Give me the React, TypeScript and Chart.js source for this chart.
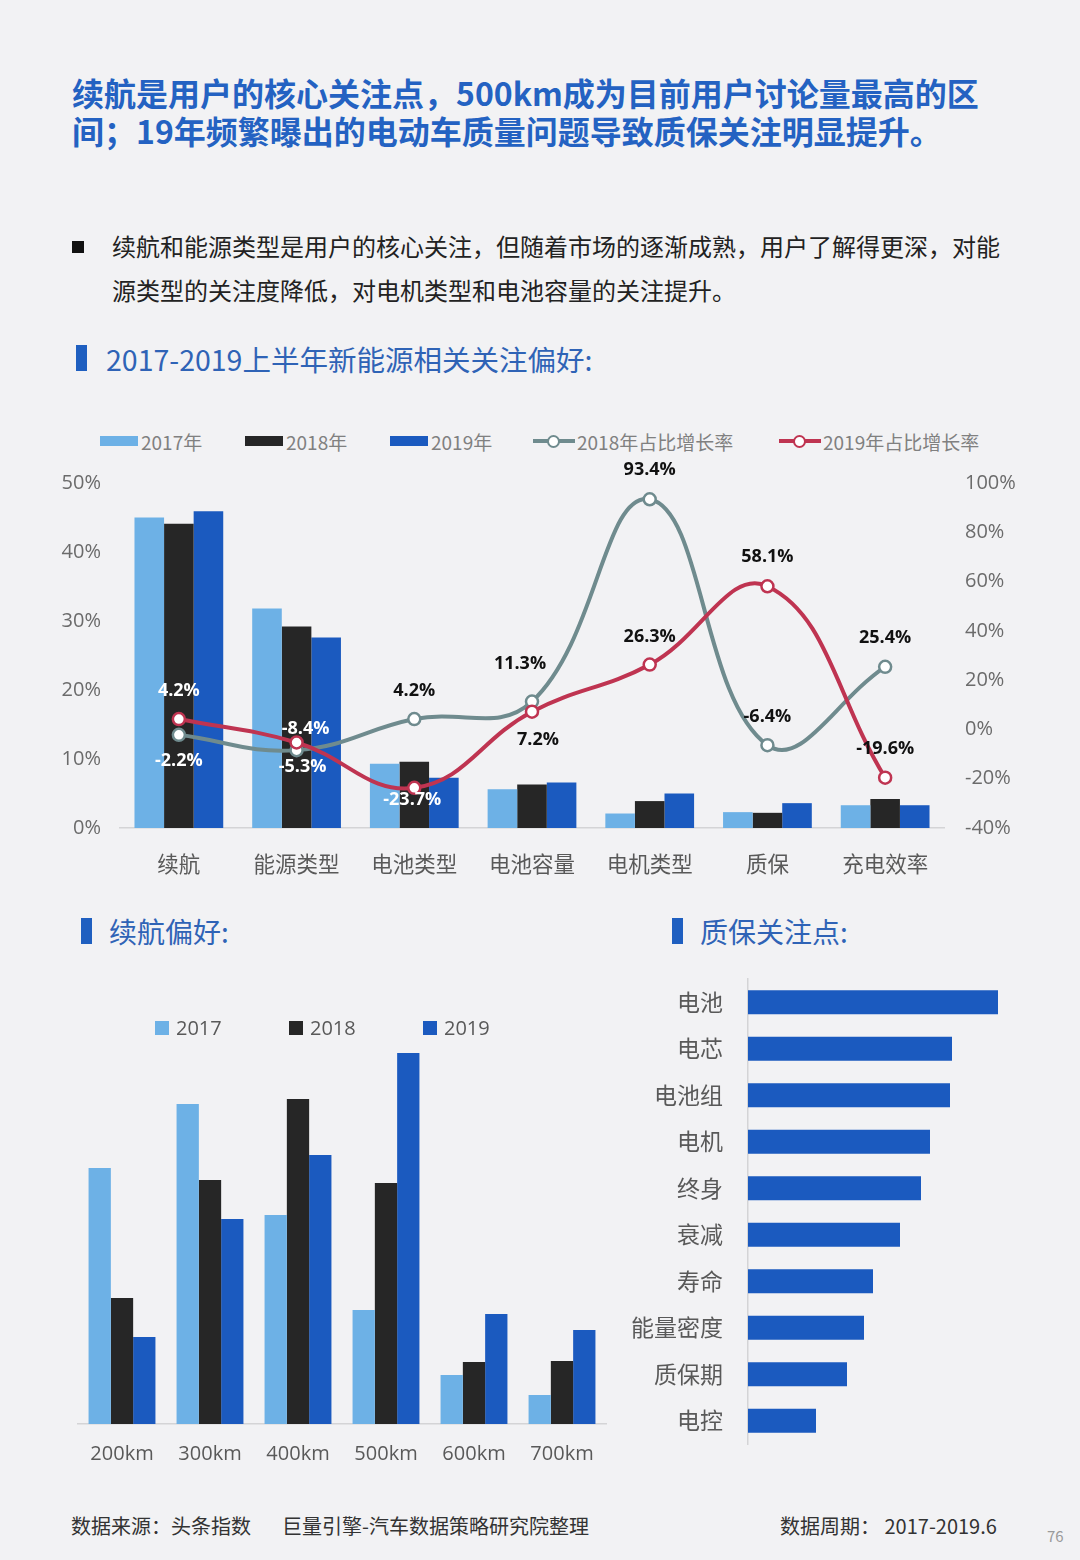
import React, { useEffect, useRef } from "react";
import { Chart, registerables } from "chart.js";

Chart.register(...registerables);

const NUM_FONT = "'Open Sans', 'Noto Sans CJK SC', sans-serif";
const CJK_FONT = "'Noto Sans CJK SC', 'Open Sans', sans-serif";

// ---------- data ----------
const focusCategories = ["续航", "能源类型", "电池类型", "电池容量", "电机类型", "质保", "充电效率"];
const share2017 = [45.0, 31.8, 9.3, 5.6, 2.1, 2.3, 3.3];
const share2018 = [44.1, 29.2, 9.6, 6.3, 3.9, 2.2, 4.2];
const share2019 = [45.9, 27.6, 7.3, 6.6, 5.0, 3.6, 3.3];
const growth2018 = [-2.2, -8.4, 4.2, 11.3, 93.4, -6.4, 25.4];
const growth2019 = [4.2, -5.3, -23.7, 7.2, 26.3, 58.1, -19.6];
const shareAxisTicks = [0, 10, 20, 30, 40, 50];
const growthAxisTicks = [-40, -20, 0, 20, 40, 60, 80, 100];

const rangeCategories = ["200km", "300km", "400km", "500km", "600km", "700km"];
const range2017 = [25.6, 32.0, 20.9, 11.4, 4.9, 2.9];
const range2018 = [12.6, 24.4, 32.5, 24.1, 6.2, 6.3];
const range2019 = [8.7, 20.5, 26.9, 37.1, 11.0, 9.4];

const warrantyCategories = ["电池", "电芯", "电池组", "电机", "终身", "衰减", "寿命", "能量密度", "质保期", "电控"];
const warrantyValues = [25.0, 20.4, 20.2, 18.2, 17.3, 15.2, 12.5, 11.6, 9.9, 6.8];

// ---------- styles ----------
const C17 = "#6db1e6";
const C18 = "#262626";
const C19 = "#1b5abf";
const CGRAY = "#6f8b8e";
const CRED = "#bf3451";
const BG = "#f2f2f4";

const growthLabelStyle: Record<string, { offsets: number[][]; colors: string[] }> = {
  g2018: {
    offsets: [[0, 26], [9, -21], [0, -28], [-12, -38], [0, -29], [0, -28], [0, -29]],
    colors: ["#ffffff", "#ffffff", "#111111", "#111111", "#111111", "#111111", "#111111"],
  },
  g2019: {
    offsets: [[0, -28], [6, 24], [-2, 12], [6, 28], [0, -28], [0, -29], [0, -29]],
    colors: ["#ffffff", "#ffffff", "#ffffff", "#111111", "#111111", "#111111", "#111111"],
  },
};

const growthLabelPlugin = {
  id: "growthLabels",
  afterDatasetsDraw(chart: any) {
    const ctx = chart.ctx;
    ctx.save();
    ctx.font = `bold 18px ${NUM_FONT}`;
    ctx.textAlign = "center";
    ctx.textBaseline = "middle";
    chart.data.datasets.forEach((ds: any, di: number) => {
      const st = growthLabelStyle[ds.styleKey];
      if (!st) return;
      const meta = chart.getDatasetMeta(di);
      meta.data.forEach((pt: any, i: number) => {
        const v = ds.data[i] as number;
        ctx.fillStyle = st.colors[i];
        ctx.fillText(`${v.toFixed(1)}%`, pt.x + st.offsets[i][0], pt.y + st.offsets[i][1]);
      });
    });
    ctx.restore();
  },
};

function MainChart() {
  const ref = useRef<HTMLCanvasElement>(null);
  useEffect(() => {
    const lineCommon = {
      type: "line" as const,
      yAxisID: "y1",
      borderWidth: 4,
      tension: 0.42,
      pointRadius: 6,
      pointBackgroundColor: "#ffffff",
      pointBorderWidth: 2.5,
    };
    const barCommon = {
      type: "bar" as const,
      yAxisID: "y",
      categoryPercentage: 0.754,
      barPercentage: 1,
      order: 2,
    };
    const chart = new Chart(ref.current!, {
      type: "bar",
      data: {
        labels: focusCategories,
        datasets: [
          { ...lineCommon, label: "2019年占比增长率", styleKey: "g2019", data: growth2019, borderColor: CRED, pointBorderColor: CRED, order: 0 } as any,
          { ...lineCommon, label: "2018年占比增长率", styleKey: "g2018", data: growth2018, borderColor: CGRAY, pointBorderColor: CGRAY, order: 1 } as any,
          { ...barCommon, label: "2017年", data: share2017, backgroundColor: C17 },
          { ...barCommon, label: "2018年", data: share2018, backgroundColor: C18 },
          { ...barCommon, label: "2019年", data: share2019, backgroundColor: C19 },
        ],
      },
      options: {
        animation: false,
        responsive: false,
        layout: { padding: { top: 31, left: 0, right: 0, bottom: 0 } },
        plugins: { legend: { display: false }, tooltip: { enabled: false } },
        scales: {
          x: {
            grid: { display: false },
            border: { display: true, color: "#d4d4d6", width: 1.5 },
            ticks: { font: { size: 21.5, family: CJK_FONT }, color: "#595959", padding: 15, maxRotation: 0, autoSkip: false },
            afterFit: (s: any) => { s.height = 72; },
          },
          y: {
            position: "left",
            min: 0,
            max: 50,
            afterBuildTicks: (s: any) => { s.ticks = shareAxisTicks.map((v) => ({ value: v })); },
            ticks: { callback: (v: any) => `${v}%`, font: { size: 20, family: NUM_FONT }, color: "#6b6b6b", padding: 11 },
            grid: { display: false },
            border: { display: false },
            afterFit: (s: any) => { s.width = 80; },
          },
          y1: {
            position: "right",
            min: -40,
            max: 100,
            afterBuildTicks: (s: any) => { s.ticks = growthAxisTicks.map((v) => ({ value: v })); },
            ticks: { callback: (v: any) => `${v}%`, font: { size: 20, family: NUM_FONT }, color: "#6b6b6b", padding: 13 },
            grid: { display: false },
            border: { display: false },
            afterFit: (s: any) => { s.width = 116; },
          },
        },
      } as any,
      plugins: [growthLabelPlugin],
    });
    return () => chart.destroy();
  }, []);
  return <canvas ref={ref} width={1020} height={448} style={{ position: "absolute", left: 40, top: 452, width: 1020, height: 448 }} />;
}

function RangeChart() {
  const ref = useRef<HTMLCanvasElement>(null);
  useEffect(() => {
    const common = { categoryPercentage: 0.76, barPercentage: 1 };
    const chart = new Chart(ref.current!, {
      type: "bar",
      data: {
        labels: rangeCategories,
        datasets: [
          { ...common, label: "2017", data: range2017, backgroundColor: C17 },
          { ...common, label: "2018", data: range2018, backgroundColor: C18 },
          { ...common, label: "2019", data: range2019, backgroundColor: C19 },
        ],
      },
      options: {
        animation: false,
        responsive: false,
        layout: { padding: { top: 24, left: 18, right: 14, bottom: 0 } },
        plugins: { legend: { display: false }, tooltip: { enabled: false } },
        scales: {
          x: {
            grid: { display: false },
            border: { display: true, color: "#d4d4d6", width: 1.5 },
            ticks: { font: { size: 20, family: NUM_FONT }, color: "#595959", padding: 10, maxRotation: 0, autoSkip: false },
            afterFit: (s: any) => { s.height = 66; },
          },
          y: { display: false, min: 0, max: 40 },
        },
      } as any,
    });
    return () => chart.destroy();
  }, []);
  return <canvas ref={ref} width={560} height={490} style={{ position: "absolute", left: 60, top: 1000, width: 560, height: 490 }} />;
}

function WarrantyChart() {
  const ref = useRef<HTMLCanvasElement>(null);
  useEffect(() => {
    const chart = new Chart(ref.current!, {
      type: "bar",
      data: {
        labels: warrantyCategories,
        datasets: [
          { label: "质保关注点", data: warrantyValues, backgroundColor: C19, categoryPercentage: 1, barPercentage: 0.516 },
        ],
      },
      options: {
        indexAxis: "y",
        animation: false,
        responsive: false,
        layout: { padding: { top: 39, left: 0, right: 42, bottom: 40 } },
        plugins: { legend: { display: false }, tooltip: { enabled: false } },
        scales: {
          x: { display: false, min: 0, max: 26 },
          y: {
            grid: { display: false },
            border: { display: true, color: "#d4d4d6", width: 1.5 },
            ticks: { font: { size: 23, family: CJK_FONT }, color: "#595959", padding: 17, autoSkip: false },
            afterFit: (s: any) => { s.width = 128; },
          },
        },
      } as any,
    });
    return () => chart.destroy();
  }, []);
  return <canvas ref={ref} width={430} height={544} style={{ position: "absolute", left: 620, top: 940, width: 430, height: 544 }} />;
}

function Text(props: { x: number; cy: number; size: number; color: string; weight?: number; children: any; family?: string }) {
  const lh = Math.round(props.size * 1.5);
  return (
    <div
      style={{
        position: "absolute",
        left: props.x,
        top: props.cy - lh / 2,
        height: lh,
        lineHeight: `${lh}px`,
        fontSize: props.size,
        color: props.color,
        fontWeight: props.weight ?? 400,
        fontFamily: props.family ?? CJK_FONT,
        whiteSpace: "nowrap",
      }}
    >
      {props.children}
    </div>
  );
}

function SectionHeader(props: { barX: number; textX: number; cy: number; size: number; children: any }) {
  return (
    <>
      <div style={{ position: "absolute", left: props.barX, top: props.cy - 13, width: 11, height: 26, background: "#1f5fc0" }} />
      <Text x={props.textX} cy={props.cy} size={props.size} color="#2f63b6">{props.children}</Text>
    </>
  );
}

const mainLegend = [
  { label: "2017年", kind: "bar", color: C17, x: 100 },
  { label: "2018年", kind: "bar", color: C18, x: 245 },
  { label: "2019年", kind: "bar", color: C19, x: 390 },
  { label: "2018年占比增长率", kind: "line", color: CGRAY, x: 533 },
  { label: "2019年占比增长率", kind: "line", color: CRED, x: 779 },
];

const rangeLegend = [
  { label: "2017", color: C17, x: 155 },
  { label: "2018", color: C18, x: 289 },
  { label: "2019", color: C19, x: 423 },
];

export default function App() {
  return (
    <div style={{ position: "absolute", left: 0, top: 0, width: 1080, height: 1560, background: BG, overflow: "hidden", fontFamily: CJK_FONT }}>
      {/* Title */}
      <Text x={72} cy={92} size={32} color="#2462c2" weight={700}>续航是用户的核心关注点，500km成为目前用户讨论量最高的区</Text>
      <Text x={72} cy={130} size={32} color="#2462c2" weight={700}>间；19年频繁曝出的电动车质量问题导致质保关注明显提升。</Text>

      {/* Bullet */}
      <div style={{ position: "absolute", left: 72, top: 241, width: 12, height: 12, background: "#111" }} />
      <Text x={112} cy={246} size={24} color="#222">续航和能源类型是用户的核心关注，但随着市场的逐渐成熟，用户了解得更深，对能</Text>
      <Text x={112} cy={290} size={24} color="#222">源类型的关注度降低，对电机类型和电池容量的关注提升。</Text>

      <SectionHeader barX={76} textX={106} cy={358} size={28.5}>2017-2019上半年新能源相关关注偏好:</SectionHeader>

      {/* Main legend */}
      {mainLegend.map((it) => (
        <div key={it.label}>
          {it.kind === "bar" ? (
            <div style={{ position: "absolute", left: it.x, top: 436, width: 38, height: 10, background: it.color }} />
          ) : (
            <>
              <div style={{ position: "absolute", left: it.x, top: 439, width: 42, height: 4, background: it.color }} />
              <div style={{ position: "absolute", left: it.x + 14, top: 434.5, width: 9, height: 9, borderRadius: "50%", border: `2.5px solid ${it.color}`, background: "#fff" }} />
            </>
          )}
          <Text x={it.x + (it.kind === "bar" ? 41 : 44)} cy={441} size={19} color="#808080">{it.label}</Text>
        </div>
      ))}

      <MainChart />

      <SectionHeader barX={81} textX={109} cy={931} size={28}>续航偏好:</SectionHeader>
      <SectionHeader barX={672} textX={700} cy={931} size={28}>质保关注点:</SectionHeader>

      <RangeChart />
      {rangeLegend.map((it) => (
        <div key={it.label}>
          <div style={{ position: "absolute", left: it.x, top: 1021, width: 14, height: 14, background: it.color }} />
          <Text x={it.x + 21} cy={1028} size={20} color="#595959" family={NUM_FONT}>{it.label}</Text>
        </div>
      ))}

      <WarrantyChart />

      {/* Footer */}
      <Text x={71} cy={1526} size={20} color="#333">数据来源：头条指数</Text>
      <Text x={282} cy={1526} size={20} color="#333">巨量引擎-汽车数据策略研究院整理</Text>
      <Text x={780} cy={1526} size={20} color="#333">数据周期：&nbsp;2017-2019.6</Text>
      <Text x={1047} cy={1535} size={15} color="#9a9a9a">76</Text>
    </div>
  );
}
